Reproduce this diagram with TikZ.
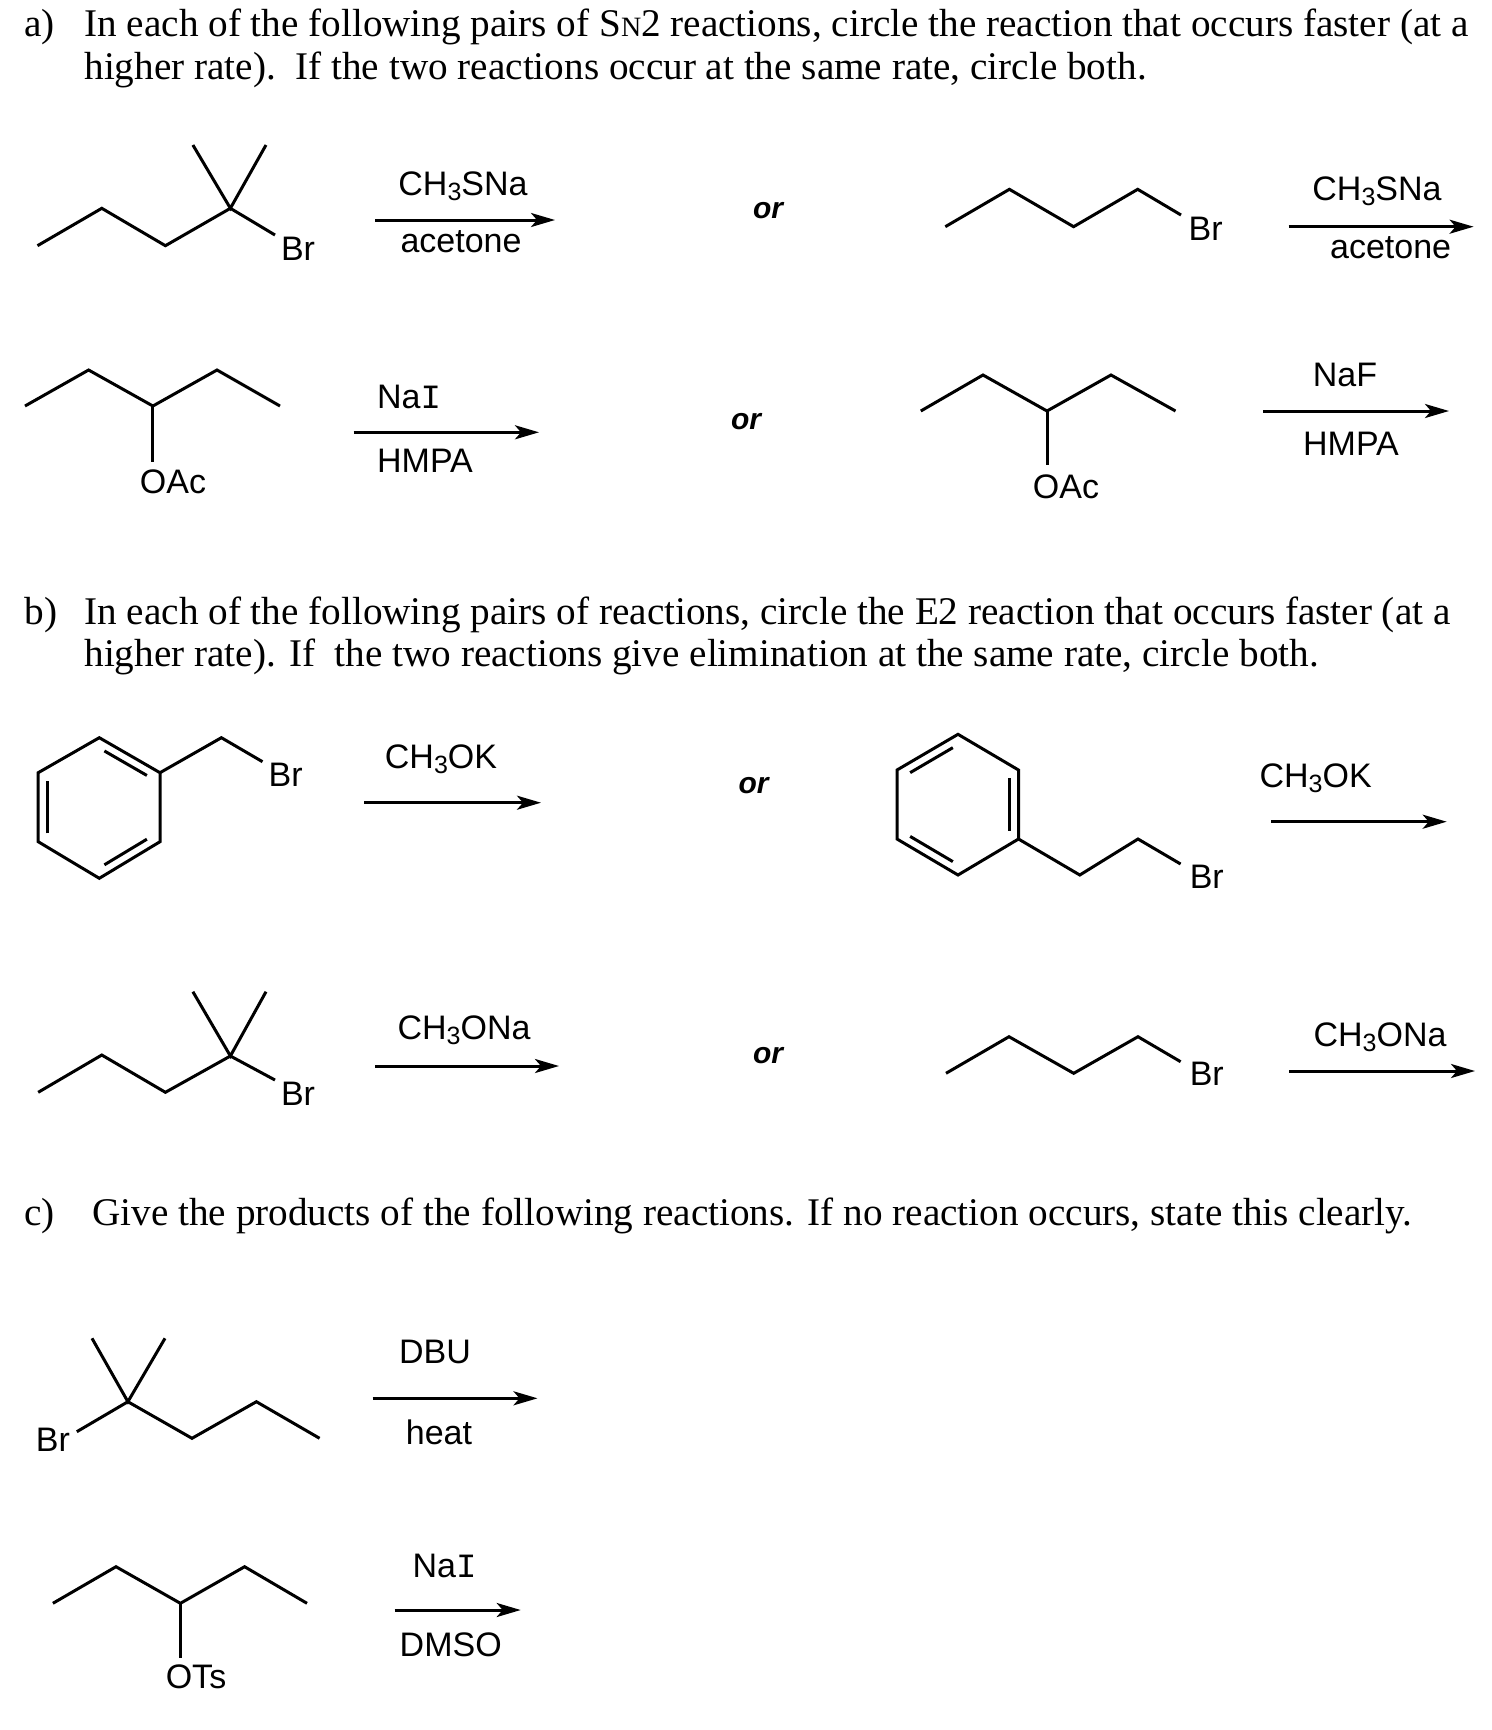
\documentclass[tikz,border=0pt]{standalone}
\usepackage{fontspec}
\setmainfont{Liberation Serif}
\setsansfont{Liberation Sans}
\newfontfamily\monoI{Liberation Mono}
\newcommand{\subthree}{\raisebox{-0.3ex}{\fontsize{12.5}{12.5}\selectfont 3}}
\usetikzlibrary{arrows.meta,calc}
\begin{document}
\begin{tikzpicture}[x=0.5pt,y=-0.5pt,
  bond/.style={line width=1.5pt,line join=miter},
  rxn/.style={line width=1.5pt,-{Stealth[length=12pt,width=7pt,inset=3pt]}},
  lab/.style={font=\sffamily\fontsize{17}{17}\selectfont,inner sep=0pt},
  ortxt/.style={font=\sffamily\bfseries\itshape\fontsize{15}{15}\selectfont,inner sep=0pt},
  body/.style={font=\fontsize{19.6}{19.6}\selectfont,anchor=base west,inner sep=0pt}]
\useasboundingbox (0,0) rectangle (1492,1730);
\fill[white] (0,0) rectangle (1492,1730);
% ---------- texts ----------
\node[body] (ta1) at (24,36) {a)};
\node[body] (ta2) at (84,36) {In each of the following pairs of S{\fontsize{14}{14}\selectfont N}2 reactions, circle the reaction that occurs faster (at a};
\node[body] (ta3) at (84,79) {higher rate).\ \ If the two reactions occur at the same rate, circle both.};
\node[body] (tb1) at (24,624) {b)};
\node[body] (tb2) at (84,624) {In each of the following pairs of reactions, circle the E2 reaction that occurs faster (at a};
\node[body] (tb3) at (84,666) {higher rate). If\ \ the two reactions give elimination at the same rate, circle both.};
\node[body] (tc1) at (24,1225) {c)};
\node[body] (tc2) at (92,1225) {Give the products of the following reactions. If no reaction occurs, state this clearly.};
% ---------- a1 ----------
\coordinate (a1c) at (230.4,208.3);
\draw[bond] (37.5,245.7) -- (101.8,208.3) -- (165.4,245.7) -- (a1c) -- (275,235);
\draw[bond] (192.9,145) -- (a1c) -- (266,145);
\node[lab] (a1br) at (298,248.3) {Br};
\coordinate (r1s) at (375,220); \coordinate (r1e) at (555,220);
\draw[rxn] (r1s) -- (r1e);
\node[lab] (r1t) at (463,186) {CH\subthree SNa};
\node[lab] (r1b) at (461,241.7) {acetone};
\node[ortxt] (or1) at (768,211) {or};
% a3
\draw[bond] (945.3,226.7) -- (1009.4,189.3) -- (1073.6,226.7) -- (1137.7,189.3) -- (1181,215);
\node[lab] (a3br) at (1205.7,228.3) {Br};
\coordinate (r3s) at (1288.7,226.7); \coordinate (r3e) at (1473.6,226.7);
\draw[rxn] (r3s) -- (r3e);
\node[lab] (r3t) at (1377,191) {CH\subthree SNa};
\node[lab] (r3b) at (1390.6,248) {acetone};
% a2
\draw[bond] (25,406) -- (88.6,370) -- (152.9,406) -- (217,370) -- (280,406);
\draw[bond] (152.9,406) -- (152.9,461.7);
\node[lab] (a2o) at (173,481.7) {OAc};
\coordinate (r2s) at (353.6,432.3); \coordinate (r2e) at (539,432.3);
\draw[rxn] (r2s) -- (r2e);
\node[lab] (r2t) at (409,397) {Na{\monoI I}};
\node[lab] (r2b) at (425,461) {HMPA};
\node[ortxt] (or2) at (746,422) {or};
% a4
\draw[bond] (920.8,411) -- (983,375) -- (1047,411) -- (1111,375) -- (1175.5,411);
\draw[bond] (1047,411) -- (1047,465);
\node[lab] (a4o) at (1066,486.7) {OAc};
\coordinate (r4s) at (1263,411); \coordinate (r4e) at (1449,411);
\draw[rxn] (r4s) -- (r4e);
\node[lab] (r4t) at (1345,375) {NaF};
\node[lab] (r4b) at (1351,444) {HMPA};
% ---------- b1 ----------
\coordinate (p1) at (99.3,737.7); \coordinate (p2) at (160,772.7); \coordinate (p3) at (160,841.7);
\coordinate (p4) at (99.3,878.3); \coordinate (p5) at (38.2,841.7); \coordinate (p6) at (38.2,772.7);
\draw[bond] (p1) -- (p2) -- (p3) -- (p4) -- (p5) -- (p6) -- cycle;
\draw[bond] ($(p1)!0.15!(p2)+(-4,8)$) -- ($(p1)!0.85!(p2)+(-4,8)$);
\draw[bond] ($(p3)!0.15!(p4)+(-4,-8)$) -- ($(p3)!0.85!(p4)+(-4,-8)$);
\draw[bond] ($(p5)!0.12!(p6)+(9,0)$) -- ($(p5)!0.88!(p6)+(9,0)$);
\draw[bond] (p2) -- (221.4,737.7) -- (262.5,761.7);
\node[lab] (b1br) at (285.7,775) {Br};
\coordinate (s1s) at (364,802.7); \coordinate (s1e) at (541,802.7);
\draw[rxn] (s1s) -- (s1e);
\node[lab] (s1t) at (441,759) {CH\subthree OK};
\node[ortxt] (or3) at (753.5,786) {or};
% b3
\coordinate (q1) at (958,734.3); \coordinate (q2) at (1018.5,770); \coordinate (q3) at (1018.5,839);
\coordinate (q4) at (958,875); \coordinate (q5) at (897,839); \coordinate (q6) at (897,770);
\draw[bond] (q1) -- (q2) -- (q3) -- (q4) -- (q5) -- (q6) -- cycle;
\draw[bond] ($(q6)!0.15!(q1)+(4,8)$) -- ($(q6)!0.85!(q1)+(4,8)$);
\draw[bond] ($(q4)!0.15!(q5)+(4,-8)$) -- ($(q4)!0.85!(q5)+(4,-8)$);
\draw[bond] ($(q2)!0.12!(q3)+(-9,0)$) -- ($(q2)!0.88!(q3)+(-9,0)$);
\draw[bond] (q3) -- (1079.8,875) -- (1138,839) -- (1180.6,864);
\node[lab] (b3br) at (1206.8,876.7) {Br};
\coordinate (s3s) at (1271,821.7); \coordinate (s3e) at (1446.7,821.7);
\draw[rxn] (s3s) -- (s3e);
\node[lab] (s3t) at (1315.6,778) {CH\subthree OK};
% b2
\coordinate (b2c) at (230.4,1056);
\draw[bond] (38.2,1092.3) -- (101.8,1055) -- (165.4,1092.3) -- (b2c) -- (275,1080);
\draw[bond] (192.9,991.7) -- (b2c) -- (266,991.7);
\node[lab] (b2br) at (298,1093.3) {Br};
\coordinate (s2s) at (375,1066); \coordinate (s2e) at (559,1066);
\draw[rxn] (s2s) -- (s2e);
\node[lab] (s2t) at (464,1030) {CH\subthree ONa};
\node[ortxt] (or4) at (768,1056) {or};
% b4
\draw[bond] (946,1073.3) -- (1009,1036.7) -- (1073.7,1073.3) -- (1138,1036.7) -- (1180.6,1061.7);
\node[lab] (b4br) at (1206.8,1074) {Br};
\coordinate (s4s) at (1289.4,1071); \coordinate (s4e) at (1475,1071);
\draw[rxn] (s4s) -- (s4e);
\node[lab] (s4t) at (1380,1037) {CH\subthree ONa};
% ---------- c ----------
\coordinate (c1c) at (127.9,1401.7);
\draw[bond] (76.8,1431.7) -- (c1c) -- (192,1438.3) -- (256.4,1401.7) -- (319.6,1438.3);
\draw[bond] (92,1338.3) -- (c1c) -- (165,1338.3);
\node[lab] (c1br) at (52.9,1439.3) {Br};
\coordinate (u1s) at (372.5,1398.3); \coordinate (u1e) at (537.5,1398.3);
\draw[rxn] (u1s) -- (u1e);
\node[lab] (u1t) at (435,1352) {DBU};
\node[lab] (u1b) at (439,1432) {heat};
\draw[bond] (52.9,1603.3) -- (116,1566.7) -- (180.4,1603.3) -- (244.6,1566.7) -- (307,1603.3);
\draw[bond] (180.4,1603.3) -- (180.4,1658.3);
\node[lab] (c2o) at (196,1677) {OTs};
\coordinate (u2s) at (394.6,1610); \coordinate (u2e) at (520.7,1610);
\draw[rxn] (u2s) -- (u2e);
\node[lab] (u2t) at (444.6,1566) {Na{\monoI I}};
\node[lab] (u2b) at (450.7,1645) {DMSO};
\end{tikzpicture}
\end{document}
